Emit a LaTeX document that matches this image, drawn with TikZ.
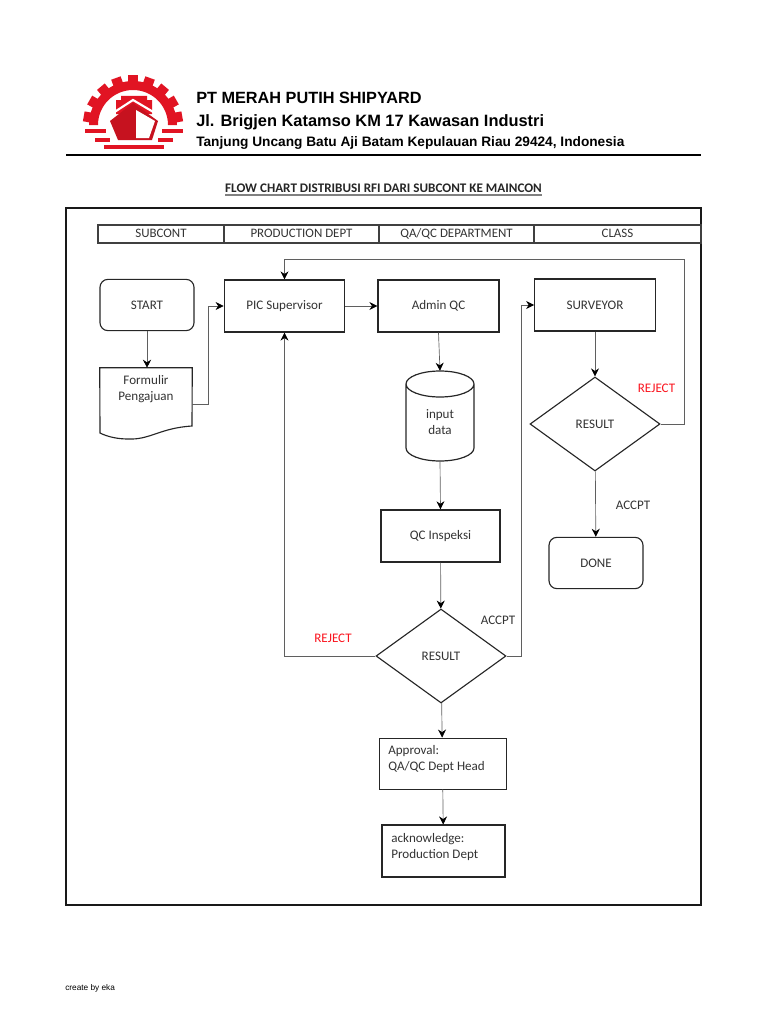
\documentclass[tikz,border=0pt]{standalone}
\usepackage{fontspec}
\setmainfont{Carlito}
\newfontfamily\headfont{Liberation Sans}
\definecolor{logored}{RGB}{225,20,35}
\definecolor{linegray}{RGB}{95,95,95}
\definecolor{rejectred}{RGB}{250,20,30}
\usetikzlibrary{arrows.meta,positioning,shapes.geometric,calc}
\tikzset{
  flowbox/.style={draw=black!85, line width=0.85pt, rectangle, minimum width=90.5pt, minimum height=39pt, font=\fontsize{9.8}{12}\selectfont, text=black!80, inner sep=0pt},
  roundbox/.style={flowbox, rounded corners=6pt, minimum width=70.5pt, minimum height=38.5pt},
  decision/.style={draw=black!85, line width=0.85pt, diamond, aspect=1.38, minimum width=97.5pt, minimum height=70.5pt, font=\fontsize{9.8}{12}\selectfont, text=black!80, inner sep=0pt},
  headcell/.style={draw=black!75, line width=0.85pt, rectangle, minimum height=13.5pt, text height=6.5pt, text depth=1.5pt, font=\fontsize{9.7}{11}\selectfont, text=black!80, inner sep=0pt},
  flowline/.style={linegray, line width=0.5pt, -{Stealth[length=6pt,width=6pt,black]}},
  flowlabel/.style={font=\fontsize{9.8}{12}\selectfont, text=black!80, inner sep=0pt},
  rejectlabel/.style={font=\fontsize{9.8}{12}\selectfont, text=rejectred, inner sep=0pt},
  headtext/.style={anchor=west, inner sep=0pt},
}
\begin{document}
\begin{tikzpicture}[x=0.75pt,y=-0.75pt]
\useasboundingbox (0,0) rectangle (768,1024);
% logo
\fill[logored] (89,125) arc[start angle=180,end angle=360,radius=44] -- (168,125) arc[start angle=360,end angle=180,radius=35] -- cycle;
\foreach \a in {10,30,...,170} {
  \fill[logored, shift={(133,125)}, rotate=\a] (38,-5) rectangle (50,5);
}
\fill[logored] (121,96) -- (147,96) -- (147,100) -- (152,100) -- (152,114) -- (116,114) -- (116,100) -- (121,100) -- cycle;
\draw[white, line width=1.6pt] (113,113) -- (133,100) -- (155,113);
\fill[logored!88!black] (110,121) -- (133,103) -- (158,121) -- (152,140) -- (118,140) -- cycle;
\fill[white] (136,110) -- (155,121) -- (149,138) -- (136,138) -- cycle;
\fill[logored] (85,129) rectangle (106,133);
\fill[logored] (95,138) rectangle (110,142);
\fill[logored] (104,145) rectangle (164,149);
\fill[logored] (162,129) rectangle (183,133);
\fill[logored] (158,138) rectangle (173,142);
% letterhead
\node[headtext, font=\headfont\bfseries\fontsize{12.2}{14}\selectfont] (company) at (196,98) {PT MERAH PUTIH SHIPYARD};
\node[headtext, font=\headfont\bfseries\fontsize{12.3}{14}\selectfont] (street) at (196,122) {Jl. Brigjen Katamso KM 17 Kawasan Industri};
\node[headtext, font=\headfont\bfseries\fontsize{10.27}{12}\selectfont] (city) at (196,143) {Tanjung Uncang Batu Aji Batam Kepulauan Riau 29424, Indonesia};
\draw[black, line width=1.4pt] (66,155) -- (701,155);
\node[font=\fontsize{9.84}{11}\selectfont\bfseries, text=black!85, inner sep=0pt] (title) at (383.5,188) {FLOW CHART DISTRIBUSI RFI DARI SUBCONT KE MAINCON};
\draw[black!50, line width=0.8pt] (225,195) -- (542,195);
% frame
\draw[black!90, line width=1.5pt] (66,208) rectangle (701,905);
% lanes
\node[headcell, minimum width=94.5pt] (subcont) at (161,234) {SUBCONT};
\node[headcell, minimum width=116.25pt] (proddept) at (301.5,234) {PRODUCTION DEPT};
\node[headcell, minimum width=116.25pt] (qadept) at (456.5,234) {QA/QC DEPARTMENT};
\node[headcell, minimum width=125.25pt] (classdept) at (617.5,234) {CLASS};
% steps
\node[roundbox] (start) at (147,305) {START};
\node[flowbox] (picsup) at (284.5,306) {PIC Supervisor};
\node[flowbox, line width=1.1pt] (adminqc) at (438.5,306) {Admin QC};
\node[flowbox] (surveyor) at (595,305) {SURVEYOR};
\node[minimum width=69pt, minimum height=54pt, inner sep=0pt] (formdoc) at (146,404) {};
\node[flowlabel, align=center] (formtext) at (146,389) {Formulir\\Pengajuan};
\draw[black!85, line width=0.85pt] (formdoc.north west) -- (formdoc.north east) -- (192,426) .. controls (160,428) and (150,440) .. (128,439) .. controls (118,439) and (108,437) .. (100,433) -- cycle;
\node[minimum width=51pt, minimum height=67.5pt, inner sep=0pt] (inputdata) at (440,416) {};
\draw[black!85, line width=0.9pt] (406,384) arc[start angle=180,end angle=540,x radius=34,y radius=13] (406,384) -- (406,448) arc[start angle=180,end angle=0,x radius=34,y radius=13] -- (474,384);
\node[flowlabel, align=center] (inputtext) at (440,422) {input\\data};
\node[flowbox, line width=1.1pt, minimum width=89pt] (qcinsp) at (440.5,536) {QC Inspeksi};
\node[decision] (resultqc) at (441,656) {RESULT};
\node[decision] (resultcl) at (595,424) {RESULT};
\node[roundbox] (done) at (596,563) {DONE};
\node[flowbox, line width=0.7pt, minimum width=95.25pt, minimum height=38.25pt] (approval) at (442.5,763.5) {};
\node[flowlabel, align=left, anchor=west] (approvaltext) at (388,759) {Approval:\\QA/QC Dept Head};
\node[flowbox, minimum width=92.25pt] (acknow) at (443.5,851) {};
\node[flowlabel, align=left, anchor=west] (acknowtext) at (391,847) {acknowledge:\\Production Dept};
% connectors
\coordinate (bendform) at (208,404);
\coordinate (bendaccpt) at (521,656);
\coordinate (bendreject) at (684,424);
\coordinate (returntop) at (284.5,259);
\draw[flowline] (start) -- (formdoc.north -| start);
\draw[flowline] (formdoc.east) -- (bendform) |- (picsup.west);
\draw[flowline] (picsup) -- (adminqc);
\draw[flowline] (adminqc.south) -- (inputdata.north);
\draw[flowline] (inputdata.south) -- (qcinsp.north);
\draw[flowline] (qcinsp) -- (resultqc);
\draw[flowline] (resultqc) -- (approval);
\draw[flowline] (approval) -- (acknow);
\draw[flowline] (resultqc.east) -- (bendaccpt) |- (surveyor.west);
\draw[flowline] (resultqc.west) -| (picsup.south);
\draw[flowline] (surveyor) -- (resultcl);
\draw[flowline] (resultcl.east) -- (bendreject) |- (returntop) -- (picsup.north);
\draw[flowline] (resultcl) -- (done);
% labels
\node[rejectlabel] (rejectqc) at (333,638) {REJECT};
\node[rejectlabel] (rejectcl) at (656.5,388) {REJECT};
\node[flowlabel] (accptqc) at (498,620) {ACCPT};
\node[flowlabel] (accptcl) at (633,505) {ACCPT};
\node[font=\headfont\fontsize{6.2}{7}\selectfont, anchor=west, inner sep=0pt] (creator) at (65,988) {create by eka};
\end{tikzpicture}
\end{document}
